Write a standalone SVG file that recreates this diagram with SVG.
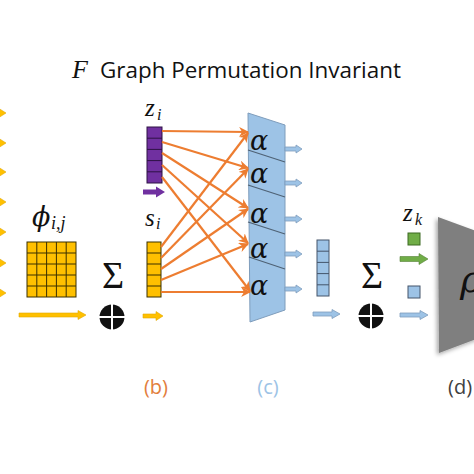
<svg xmlns="http://www.w3.org/2000/svg" width="474" height="474" viewBox="0 0 474 474">
<style>
.math{font-family:"Liberation Serif","DejaVu Serif",serif;font-style:italic;fill:#111}
.greek{font-family:"DejaVu Serif","Liberation Serif",serif;font-style:italic;fill:#111}
.sans{font-family:"Open Sans","Liberation Sans",sans-serif}
.yel{fill:#FFC000;stroke:#3b3000;stroke-width:1}
.pur{fill:#7030A0;stroke:#2e1245;stroke-width:1}
.blu{fill:#9DC3E6;stroke:#44546A;stroke-width:1}
.ya{fill:#FFC000;stroke:#E0A800;stroke-width:0.6}
.pa{fill:#7030A0}
.ga{fill:#70AD47;stroke:#548235;stroke-width:0.6}
.ba{fill:#9DC3E6;stroke:#7F9DBC;stroke-width:0.8}
.conn{stroke:#ED7D31;stroke-width:2.2;fill:none;marker-end:url(#oh)}
.sig{font-family:"Liberation Serif","DejaVu Serif",serif;font-size:38px;fill:#111}
</style>
<defs>
<marker id="oh" viewBox="0 0 10 10" refX="9" refY="5" markerWidth="4.5" markerHeight="4.5" orient="auto" markerUnits="strokeWidth">
<path d="M0,0 L10,5 L0,10 L3,5 Z" fill="#ED7D31"/>
</marker>
<filter id="sh" x="-20%" y="-20%" width="140%" height="140%">
<feDropShadow dx="-2" dy="2" stdDeviation="2" flood-color="#000" flood-opacity="0.35"/>
</filter>
<g id="plus">
<circle r="12.5" fill="#111"/>
<path d="M-13,0 H13 M0,-13 V13" stroke="#fff" stroke-width="2"/>
</g>
</defs>
<rect width="474" height="474" fill="#fff"/>

<g id="title">
<text class="math" x="72" y="78" font-size="26">F</text>
<text class="sans" x="100" y="78" font-size="22" textLength="301" lengthAdjust="spacingAndGlyphs" fill="#111">Graph Permutation Invariant</text>
</g>

<g id="inputs-left">
<polygon class="ya" points="-20,111 -1,111 -1,108.5 6,113 -1,117.5 -1,115 -20,115"/>
<polygon class="ya" points="-20,141 -1,141 -1,138.5 6,143 -1,147.5 -1,145 -20,145"/>
<polygon class="ya" points="-20,170 -1,170 -1,167.5 6,172 -1,176.5 -1,174 -20,174"/>
<polygon class="ya" points="-20,200 -1,200 -1,197.5 6,202 -1,206.5 -1,204 -20,204"/>
<polygon class="ya" points="-20,230 -1,230 -1,227.5 6,232 -1,236.5 -1,234 -20,234"/>
<polygon class="ya" points="-20,261 -1,261 -1,258.5 6,263 -1,267.5 -1,265 -20,265"/>
<polygon class="ya" points="-20,291 -1,291 -1,288.5 6,293 -1,297.5 -1,295 -20,295"/>
</g>

<g id="phi">
<text class="greek" x="32" y="226" font-size="27">ϕ</text>
<text class="math" x="51" y="229" font-size="18">i,j</text>
<rect class="yel" x="27" y="242" width="49" height="55"/>
<path d="M36.8,242 V297 M46.6,242 V297 M56.4,242 V297 M66.2,242 V297 M27,253 H76 M27,264 H76 M27,275 H76 M27,286 H76" stroke="#3b3000" stroke-width="1"/>
<polygon class="ya" points="19,313 78,313 78,310.5 86,315 78,319.5 78,317 19,317"/>
</g>

<g id="sum1">
<text class="sig" x="102" y="288">Σ</text>
<use href="#plus" x="112" y="317"/>
</g>

<g id="zi">
<text class="math" x="145" y="116" font-size="25">z</text>
<text class="math" x="157" y="120" font-size="16">i</text>
<rect class="pur" x="147" y="127" width="15" height="56"/>
<path d="M147,138.2 H162 M147,149.4 H162 M147,160.6 H162 M147,171.8 H162" stroke="#2e1245" stroke-width="1"/>
<polygon class="pa" points="143,189.5 156,189.5 156,186.5 165,192 156,197.5 156,194.5 143,194.5"/>
</g>

<g id="si">
<text class="math" x="145" y="226" font-size="25">s</text>
<text class="math" x="156" y="229" font-size="16">i</text>
<rect class="yel" x="147" y="242" width="14" height="55"/>
<path d="M147,253 H161 M147,264 H161 M147,275 H161 M147,286 H161" stroke="#3b3000" stroke-width="1"/>
<polygon class="ya" points="143,314 156,314 156,311.5 163,316 156,320.5 156,318 143,318"/>
</g>

<g id="alpha-panel">
<polygon points="248,113 285,125 285,310 250,322" fill="#9DC3E6" stroke="#7F9DBC" stroke-width="1"/>
<path d="M248,150 L285,162 M248,185 L285,197 M248,222 L285,234 M249,257 L285,269" stroke="#4f6275" stroke-width="1.2" fill="none"/>
<text class="greek" x="250" y="150" font-size="27">α</text>
<text class="greek" x="250" y="183" font-size="27">α</text>
<text class="greek" x="250" y="223" font-size="27">α</text>
<text class="greek" x="250" y="258" font-size="27">α</text>
<text class="greek" x="250" y="295" font-size="27">α</text>
<polygon class="ba" points="285,147 296,147 296,145 302,149 296,153 296,151 285,151"/>
<polygon class="ba" points="285,181 296,181 296,179 302,183 296,187 296,185 285,185"/>
<polygon class="ba" points="285,217 296,217 296,215 302,219 296,223 296,221 285,221"/>
<polygon class="ba" points="285,252 296,252 296,250 302,254 296,258 296,256 285,256"/>
<polygon class="ba" points="285,287 296,287 296,285 302,289 296,293 296,291 285,291"/>
</g>

<g id="connectors">
<line class="conn" x1="162" y1="131" x2="248" y2="132"/>
<line class="conn" x1="162" y1="142" x2="248" y2="168"/>
<line class="conn" x1="162" y1="153" x2="248" y2="208"/>
<line class="conn" x1="162" y1="165" x2="248" y2="243"/>
<line class="conn" x1="162" y1="177" x2="250" y2="291"/>
<line class="conn" x1="161" y1="247" x2="248" y2="133"/>
<line class="conn" x1="161" y1="258" x2="248" y2="169"/>
<line class="conn" x1="161" y1="269" x2="248" y2="209"/>
<line class="conn" x1="161" y1="280" x2="248" y2="244"/>
<line class="conn" x1="161" y1="292" x2="250" y2="292"/>
</g>

<g id="c-out">
<rect class="blu" x="317" y="240" width="12" height="56"/>
<path d="M317,251.2 H329 M317,262.4 H329 M317,273.6 H329 M317,284.8 H329" stroke="#44546A" stroke-width="1"/>
<polygon class="ba" points="313,312 332,312 332,309.5 340,314 332,318.5 332,316 313,316"/>
</g>

<g id="sum2">
<text class="sig" x="361" y="288">Σ</text>
<use href="#plus" x="371" y="316"/>
</g>

<g id="zk">
<text class="math" x="403" y="221" font-size="25">z</text>
<text class="math" x="415" y="225" font-size="16">k</text>
<rect x="408" y="233" width="12" height="12" fill="#70AD47" stroke="#3d6b22" stroke-width="1"/>
<polygon class="ga" points="400,256.5 419,256.5 419,253.5 428,259 419,264.5 419,261.5 400,261.5"/>
<rect x="408" y="286" width="12" height="12" fill="#9DC3E6" stroke="#44546A" stroke-width="1"/>
<polygon class="ba" points="400,313 420,313 420,310.5 428,315 420,319.5 420,317 400,317"/>
</g>

<g id="rho-panel">
<polygon points="438,217 490,236 490,334 439,353" fill="#7F7F7F" filter="url(#sh)"/>
<text class="greek" x="460" y="292" font-size="38">ρ</text>
</g>

<g id="labels">
<text class="sans" x="156" y="394" font-size="20" text-anchor="middle" fill="#E27E3C">(b)</text>
<text class="sans" x="268" y="394" font-size="20" text-anchor="middle" fill="#9DC3E6">(c)</text>
<text class="sans" x="448" y="394" font-size="20" fill="#404040">(d)</text>
</g>
</svg>
